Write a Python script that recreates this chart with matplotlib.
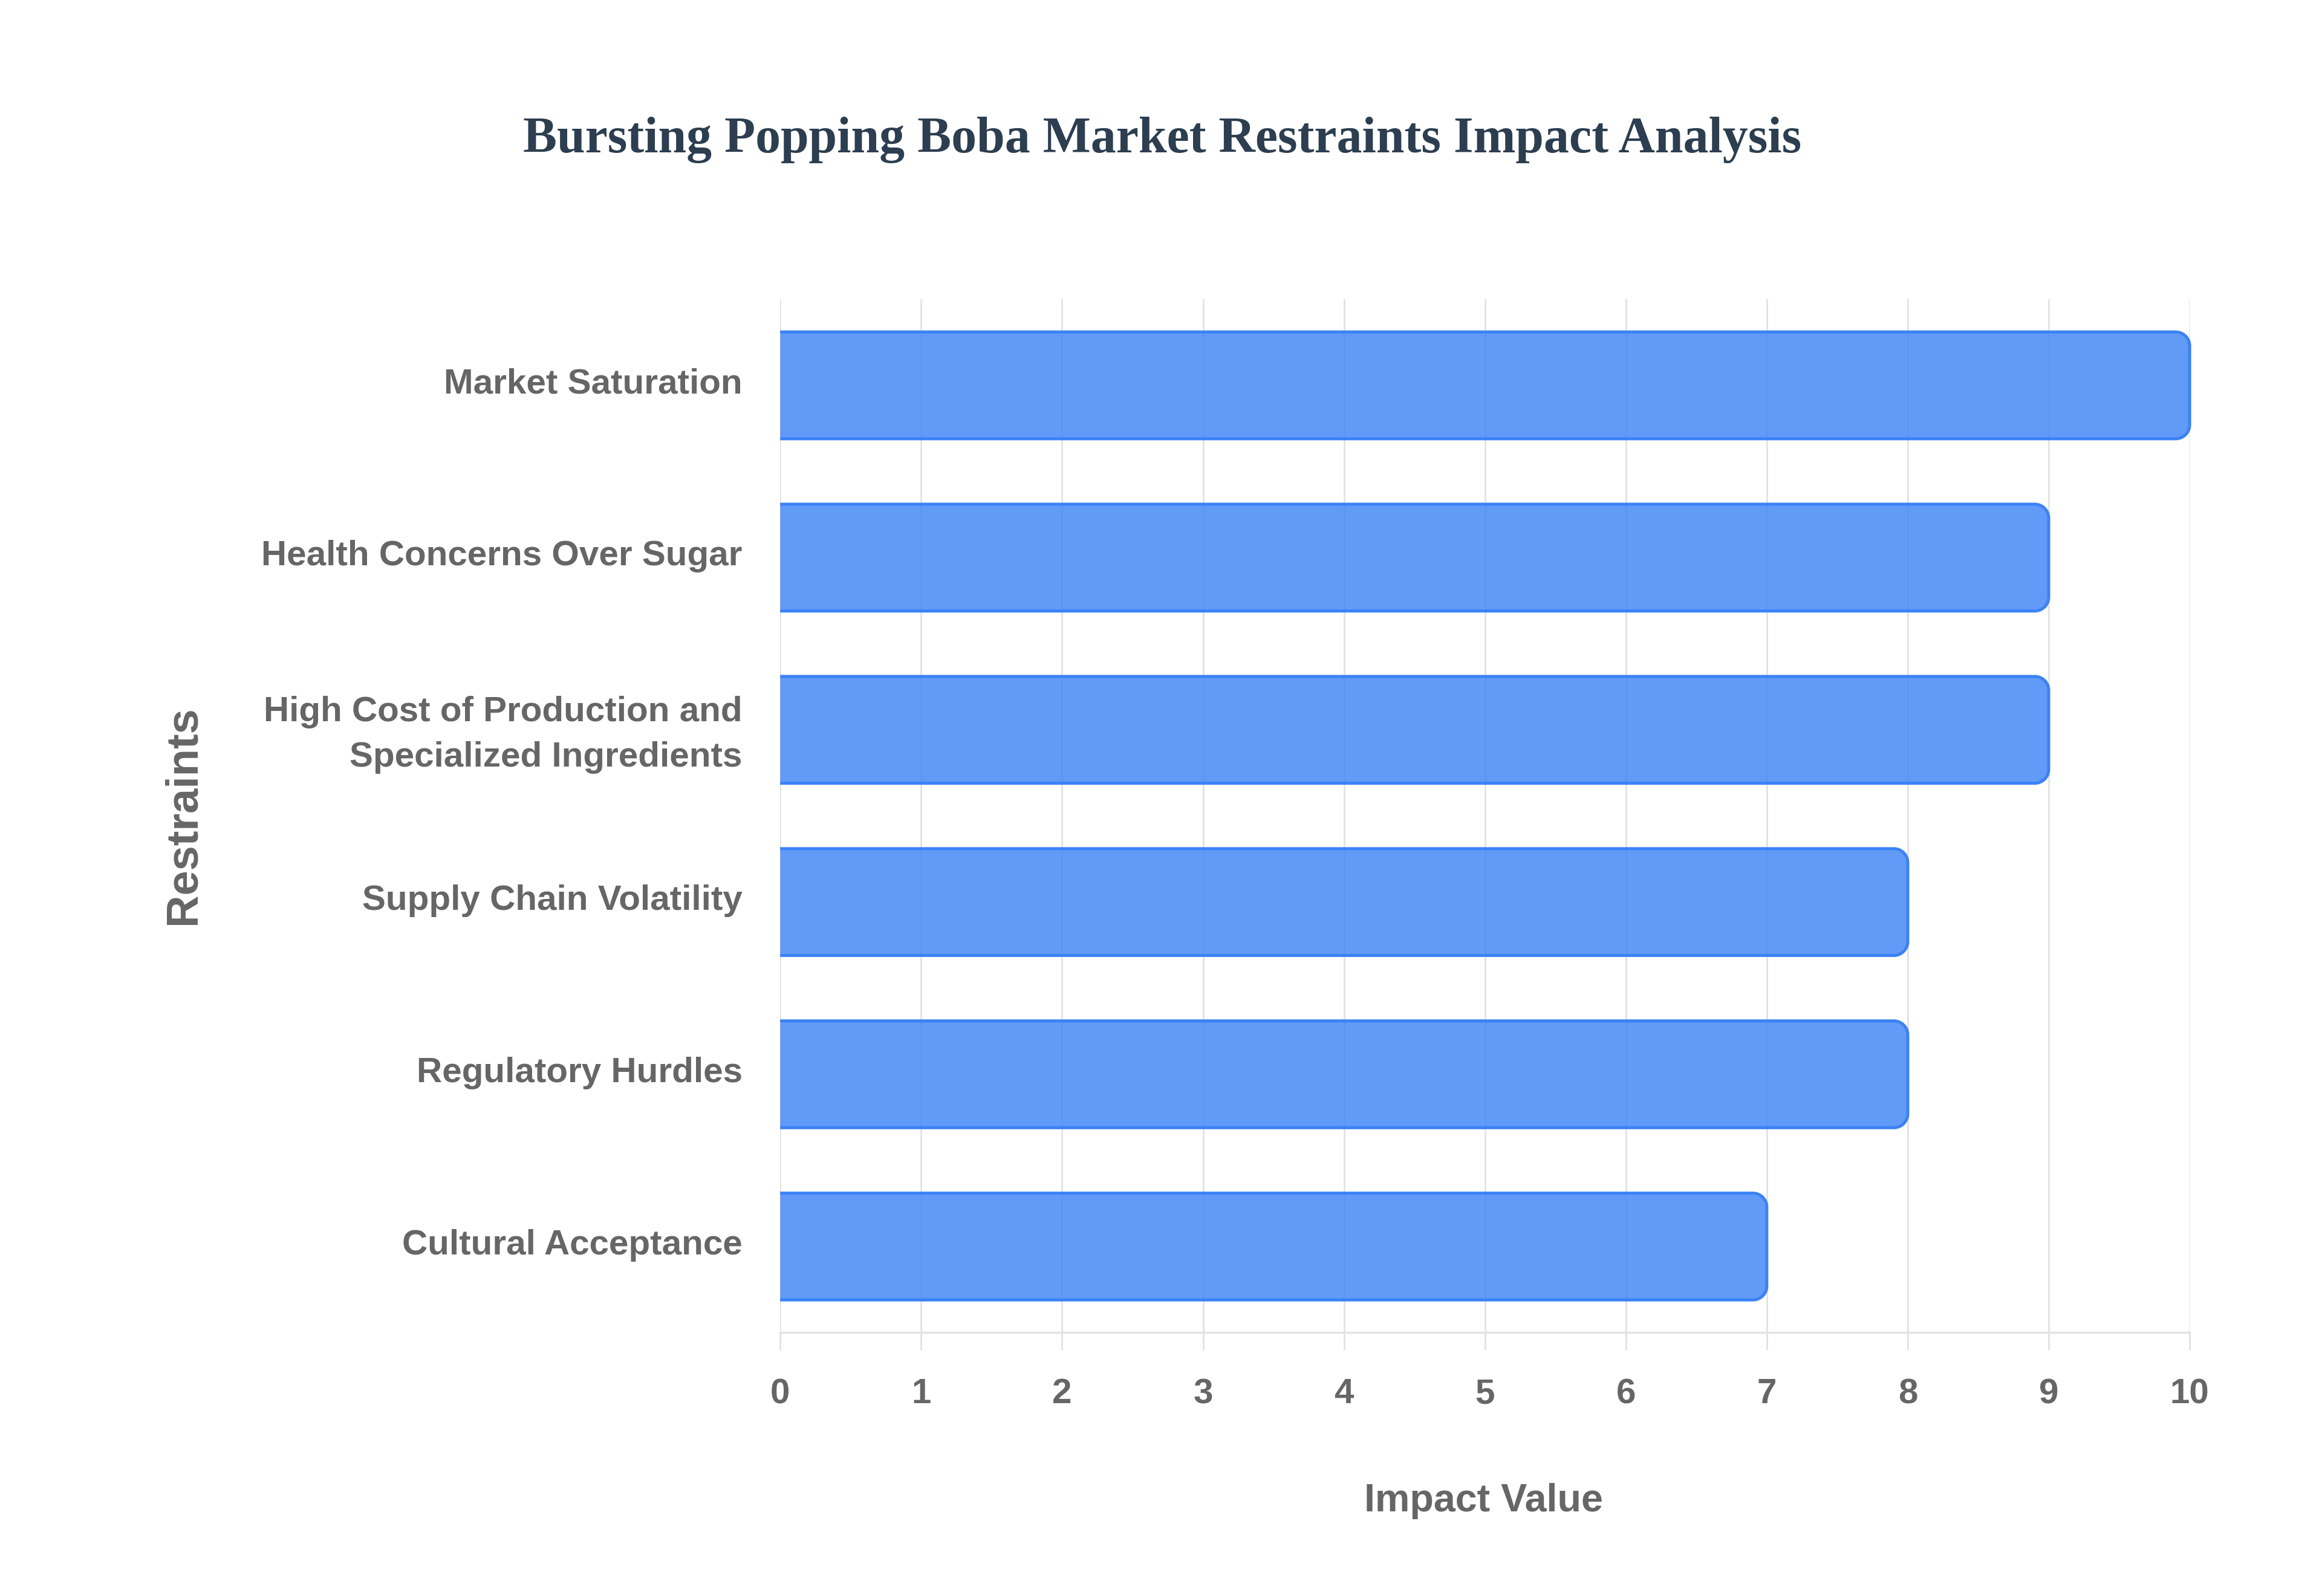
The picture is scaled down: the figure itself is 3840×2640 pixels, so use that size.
import matplotlib
matplotlib.use("Agg")
import matplotlib.pyplot as plt
from matplotlib.path import Path
from matplotlib.patches import PathPatch
from matplotlib.transforms import ScaledTranslation

# ---- data ----
restraints = [
    "Market Saturation",
    "Health Concerns Over Sugar",
    "High Cost of Production and\nSpecialized Ingredients",
    "Supply Chain Volatility",
    "Regulatory Hurdles",
    "Cultural Acceptance",
]
impact = [10, 9, 9, 8, 8, 7]
x_ticks = [0, 1, 2, 3, 4, 5, 6, 7, 8, 9, 10]

title = "Bursting Popping Boba Market Restraints Impact Analysis"
x_label = "Impact Value"
y_label = "Restraints"

# ---- style ----
SANS = ["Liberation Sans", "DejaVu Sans"]
SERIF = ["Liberation Serif", "DejaVu Serif"]
text_gray = "#666666"
grid_gray = "#e3e3e3"
fill_rgba = (59 / 255, 130 / 255, 246 / 255, 0.8)
edge_col = "#3B82F6"

fig = plt.figure(figsize=(12.8, 8.8), dpi=300)
fig.patch.set_facecolor("white")
ax = fig.add_axes([0.336, 0.165, 0.607, 0.6475])

ypos = list(range(len(restraints)))
bars = ax.barh(ypos, impact, height=0.62, color="none", edgecolor="none")

ax.set_xlim(x_ticks[0], x_ticks[-1])
ax.set_ylim(len(restraints) - 0.5, -0.5)

# rounded right ends (radius in pixels converted to data units)
p0, p1 = ax.transData.transform([(0, 0), (1, 1)])
px_x = abs(p1[0] - p0[0])
px_y = abs(p1[1] - p0[1])
radius_px = 23
rx = radius_px / px_x
ry = radius_px / px_y
k = 0.5523

for b in bars:
    x0 = b.get_x()
    w = b.get_width()
    y0 = b.get_y()
    y1 = y0 + b.get_height()
    xe = x0 + w
    verts = [
        (x0, y0),
        (xe - rx, y0),
        (xe - rx + k * rx, y0), (xe, y0 + ry - k * ry), (xe, y0 + ry),
        (xe, y1 - ry),
        (xe, y1 - ry + k * ry), (xe - rx + k * rx, y1), (xe - rx, y1),
        (x0, y1),
    ]
    codes = [Path.MOVETO, Path.LINETO,
             Path.CURVE4, Path.CURVE4, Path.CURVE4,
             Path.LINETO,
             Path.CURVE4, Path.CURVE4, Path.CURVE4,
             Path.LINETO]
    fill_path = Path(verts + [(x0, y0)], codes + [Path.CLOSEPOLY])
    ax.add_patch(PathPatch(fill_path, facecolor=fill_rgba, edgecolor="none", zorder=2))
    edge_path = Path(verts, codes)
    ax.add_patch(PathPatch(edge_path, facecolor="none", edgecolor=edge_col,
                           linewidth=1.2, zorder=3, clip_on=False))

ax.set_xticks(x_ticks)
ax.set_xticklabels([str(t) for t in x_ticks])
ax.set_yticks(ypos)
ax.set_yticklabels(restraints, linespacing=1.5)

ax.set_axisbelow(True)
ax.grid(axis="x", color=grid_gray, linewidth=0.7)
ax.grid(axis="y", visible=False)
for s in ["top", "right", "left"]:
    ax.spines[s].set_visible(False)
ax.spines["bottom"].set_color(grid_gray)
ax.spines["bottom"].set_linewidth(0.8)

ax.tick_params(axis="x", length=7, width=0.7, color=grid_gray, pad=11,
               labelsize=14, labelcolor=text_gray)
ax.tick_params(axis="y", length=0, pad=15, labelsize=14, labelcolor=text_gray)
for lab in ax.get_xticklabels() + ax.get_yticklabels():
    lab.set_family(SANS)
    lab.set_fontweight("bold")
# nudge y tick labels slightly upward
nudge = ScaledTranslation(0, 2 / 72, fig.dpi_scale_trans)
for lab in ax.get_yticklabels():
    lab.set_transform(lab.get_transform() + nudge)

fig.text(0.5006, 0.9125, title, ha="center", va="center", family=SERIF,
         fontweight="bold", fontsize=20.1, color="#2C3E50")
fig.text(0.639, 0.0595, x_label, ha="center", va="center", family=SANS,
         fontweight="bold", fontsize=15.5, color=text_gray)
fig.text(0.079, 0.4895, y_label, ha="center", va="center", rotation=90,
         family=SANS, fontweight="bold", fontsize=17.8, color=text_gray)

fig.savefig("out.png", dpi=300, facecolor="white")
